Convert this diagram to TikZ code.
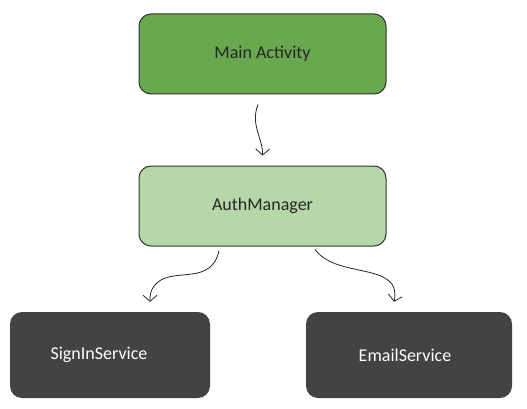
\documentclass[tikz,border=0pt]{standalone}
\usepackage{fontspec}
\setmainfont{Carlito}
\usetikzlibrary{arrows.meta,positioning}
\definecolor{activityGreen}{HTML}{6AA84F}
\definecolor{managerGreen}{HTML}{B6D7A8}
\definecolor{serviceGrey}{HTML}{434343}

\begin{document}
\begin{tikzpicture}[x=1pt, y=-1pt,
  box/.style={rounded corners=12pt, font=\fontsize{18}{22}\selectfont},
  greenbox/.style={box, draw=black!80, line width=1pt, minimum width=247pt, minimum height=80pt, text=black!85},
  darkbox/.style={box, fill=serviceGrey, text=white, minimum height=86pt},
  wiggle/.style={draw=black!85, line width=0.8pt, -{Straight Barb[length=6pt,width=14pt]}}]

\useasboundingbox (0,0) rectangle (527,409);

\node[greenbox, fill=activityGreen] (main) at (262.5,54) {Main Activity};
\node[greenbox, fill=managerGreen] (auth) at (262.5,206) {AuthManager};
\node[darkbox, minimum width=200pt] (signin) at (110,355) {SignInService\hspace*{22pt}};
\node[darkbox, minimum width=206pt] (email) at (409,355) {EmailService\hspace*{8pt}};

% hand drawn connectors
\coordinate (mainOut) at ([xshift=-4.5pt,yshift=-10pt]main.south);
\coordinate (authIn) at ([yshift=10pt]auth.north);
\coordinate (authLeft) at ([xshift=-43.5pt,yshift=-4pt]auth.south);
\coordinate (authRight) at ([xshift=52.5pt,yshift=-3pt]auth.south);
\coordinate (signinIn) at ([xshift=40pt,yshift=10pt]signin.north);
\coordinate (emailIn) at ([xshift=-15pt,yshift=10pt]email.north);

\draw[wiggle] (mainOut) .. controls (250,125) and (263,138) .. (authIn);
\draw[wiggle] (authLeft) .. controls (212,285) and (175,268) .. (158,282)
  .. controls (150,289) and (150,295) .. (signinIn);
\draw[wiggle] (authRight) .. controls (330,270) and (365,268) .. (383,277)
  .. controls (395,283) and (396,292) .. (emailIn);

\end{tikzpicture}
\end{document}
